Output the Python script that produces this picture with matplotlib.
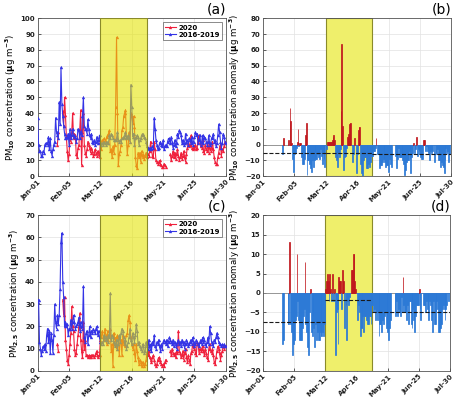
import numpy as np
import matplotlib
matplotlib.use('Agg')
import matplotlib.pyplot as plt

plt.rcParams['font.family'] = ['DejaVu Sans']
plt.rcParams['font.weight'] = 'bold'
plt.rcParams['mathtext.default'] = 'bf'

nan = np.nan

# day index 0 = Jan-01 ... 210 = Jul-30
tick_days = [0, 35, 70, 105, 140, 175, 210]
tick_labels = ['Jan-01', 'Feb-05', 'Mar-12', 'Apr-16', 'May-21', 'Jun-25', 'Jul-30']
lock_start, lock_end = 70, 122

# PM10, 2016-2019 mean (blue)
pm10_base = [
    37, 20, 16, 16, 13, 13, 16, 15, 20, 21,
    21, 20, 25, 17, 24, 16, 13, 17, 20, 22,
    37, 28, 26, 24, 47, 33, 69, 46, 38, 32,
    27, 24, 24, 25, 27, 20, 30, 24, 26, 30,
    25, 26, 25, 22, 24, 30, 29, 24, 28, 26,
    38, 50, 32, 30, 30, 27, 36, 30, 26, 24,
    27, 22, 21, 23, 20, 22, 25, 21, 23, 26,
    22, 20, 21, 20, 22, 21, 20, 22, 21, 21,
    26, 24, 27, 26, 24, 23, 23, 23, 24, 28,
    23, 22, 23, 22, 24, 24, 25, 26, 28, 24,
    25, 26, 24, 22, 58, 44, 25, 27, 20, 24,
    25, 26, 25, 20, 23, 24, 26, 27, 26, 25,
    24, 22, 19, 18, 17, 18, 18, 17, 19, 18,
    37, 30, 23, 20, 17, 18, 21, 22, 20, 19,
    23, 17, 19, 20, 19, 22, 24, 23, 21, 25,
    22, 18, 20, 23, 19, 21, 27, 25, 29, 28,
    26, 21, 23, 20, 21, 27, 22, 23, 20, 24,
    23, 21, 25, 20, 22, 25, 28, 26, 27, 21,
    23, 26, 20, 22, 26, 21, 25, 24, 22, 20,
    22, 26, 20, 21, 24, 25, 27, 22, 23, 19,
    21, 26, 33, 28, 22, 18, 21, 27, 25, 22,
    21]

# PM10, 2020 (red)
pm10_2020 = [
    nan, nan, nan, nan, nan, nan, nan, nan, nan, nan,
    nan, nan, nan, nan, nan, nan, nan, nan, nan, nan,
    nan, nan, 20, 28, nan, nan, nan, nan, 41, 32,
    50, 39, 25, 16, 10, 14, 25, 22, 28, 40,
    24, 27, 26, 14, 12, 18, 20, 30, 42, 7,
    28, 40, 20, 15, 13, 17, 22, 20, 18, 15,
    18, 16, 13, 14, 17, 15, 13, 16, 14, 12,
    22, 17, 23, 22, 24, 23, 22, 25, 26, 27,
    29, 16, 17, 12, 19, 15, 20, 44, 88, 40,
    7, 14, 16, 20, 29, 31, 38, 40, 42, 24,
    14, 20, 28, 22, 40, 38, 34, 38, 31, 12,
    7, 5, 15, 12, 15, 9, 16, 12, 14, 11,
    13, 15, 12, 14, 13, 16, 22, 17, 13, 12,
    22, 17, 10, 9, 8, 9, 10, 8, 7, 6,
    6, 8, 7, 6, nan, nan, nan, nan, 14, 10,
    13, 16, 12, 15, 11, 14, 17, 13, 10, 12,
    15, 11, 13, 16, 12, 9, 14, 18, 21, 19,
    20, 26, 18, 17, 18, 19, 20, 17, 18, 24,
    26, 22, 19, 18, 23, 16, 15, 20, 17, 16,
    22, 15, 20, 16, 18, 22, 17, 12, 9, 8,
    8, 12, 15, 18, 20, 13, 17, 16, 19, 22,
    21]

# PM2.5, 2016-2019 mean (blue)
pm25_base = [
    31, 32, 13, 10, 7, 9, 11, 10, 12, 9,
    16, 19, 13, 18, 8, 17, 14, 8, 16, 30,
    22, 19, 25, 21, 25, 37, 58, 62, 40, 33,
    20, 22, 20, 21, 16, 19, 19, 23, 19, 22,
    25, 22, 19, 20, 21, 22, 24, 18, 22, 19,
    20, 38, 15, 13, 17, 18, 12, 16, 20, 15,
    18, 17, 19, 18, 17, 19, 20, 16, 18, 15,
    13, 12, 13, 12, 16, 14, 15, 14, 13, 16,
    15, 35, 14, 16, 15, 13, 11, 12, 14, 10,
    12, 16, 13, 17, 19, 18, 15, 12, 14, 10,
    11, 13, 15, 19, 14, 12, 17, 15, 13, 16,
    21, 18, 12, 13, 11, 10, 9, 12, 11, 8,
    9, 13, 11, 10, 14, 10, 12, 9, 13, 12,
    16, 11, 10, 13, 12, 14, 11, 9, 12, 10,
    13, 14, 13, 12, 14, 11, 13, 15, 14, 13,
    12, 14, 11, 13, 12, 10, 13, 14, 12, 13,
    11, 14, 12, 13, 10, 12, 14, 13, 11, 12,
    13, 14, 12, 15, 13, 11, 12, 14, 13, 12,
    11, 13, 14, 12, 15, 13, 14, 12, 11, 13,
    15, 12, 20, 17, 13, 12, 11, 14, 13, 15,
    17, 15, 13, 12, 12, 11, 12, 11, 12, 11,
    11]

# PM2.5, 2020 (red)
pm25_2020 = [
    nan, nan, nan, nan, nan, nan, nan, nan, nan, nan,
    nan, nan, nan, nan, nan, nan, nan, nan, nan, nan,
    nan, nan, 12, 9, nan, nan, nan, nan, 32, 25,
    33, 14, 10, 5, 3, 7, 12, 17, 29, 20,
    18, 10, 7, 8, 12, 16, 20, 26, 14, 9,
    6, 22, 10, 14, 7, 7, 6, 7, 6, 7,
    6, 7, 7, 6, 7, 8, 9, 6, 7, 7,
    14, 15, 18, 15, 14, 19, 16, 12, 18, 14,
    16, 19, 9, 12, 2, 17, 14, 15, 10, 16,
    15, 7, 13, 14, 7, 16, 12, 11, 14, 16,
    17, 23, 25, 22, 15, 12, 10, 12, 8, 5,
    12, 9, 6, 3, 5, 4, 2, 4, 3, 2,
    3, 5, 8, 7, 9, 6, 5, 4, 6, 7,
    5, 3, 2, 3, 5, 6, 5, 4, 3, 2,
    3, 2, 4, 5, nan, nan, nan, nan, 9, 7,
    10, 8, 7, 8, 6, 9, 8, 18, 9, 8,
    6, 7, 9, 5, 8, 10, 6, 4, 7, 5,
    3, 8, 9, 12, 10, 12, 8, 7, 13, 12,
    8, 10, 9, 10, 11, 9, 7, 10, 8, 6,
    5, 10, 12, 9, 8, 10, 7, 4, 3, 6,
    9, 11, 10, 8, 5, 7, 9, 11, 10, 11,
    11]

# mean anomaly per period (pre / lockdown / post)
pm10_means = [-5.5, -5.5, -6.0]
pm25_means = [-7.5, -1.8, -5.0]

days = np.arange(len(pm10_base))

RED = '#f0203c'
BLUE = '#3434e6'
BAR_RED = '#c0161c'
BAR_BLUE = '#2a78d6'
YELLOW = '#e4e400'
YELLOW_SOLID = '#efef6b'


def style_axes(ax, ylim, yticks):
    ax.set_xlim(0, 210)
    ax.set_ylim(*ylim)
    ax.set_yticks(yticks)
    ax.set_xticks(tick_days)
    ax.set_xticklabels(tick_labels, rotation=45, ha='right', rotation_mode='anchor')
    ax.tick_params(labelsize=5, direction='in', length=2, width=0.5,
                   colors='#222222', pad=2)
    ax.grid(True, color='#e2e2e2', lw=0.5)
    ax.set_axisbelow(True)
    for s in ax.spines.values():
        s.set_color('#555555')
        s.set_linewidth(0.6)


def line_panel(ax, base, y2020, ylim, yticks, ylabel, letter):
    ax.plot(days, y2020, color=RED, lw=0.8, marker='^', ms=2.4, mew=0, label='2020', zorder=3)
    ax.plot(days, base, color=BLUE, lw=0.8, marker='^', ms=2.4, mew=0, label='2016-2019', zorder=3)
    # translucent lockdown band drawn over the lines
    ax.axvspan(lock_start, lock_end, facecolor=YELLOW, alpha=0.58,
               edgecolor='none', zorder=5)
    ax.axvspan(lock_start, lock_end, facecolor='none', edgecolor='#8a8a2a',
               lw=0.8, zorder=6)
    style_axes(ax, ylim, yticks)
    ax.set_ylabel(ylabel, fontsize=6.2, labelpad=2)
    leg = ax.legend(loc='upper right', fontsize=5, frameon=True, fancybox=False,
                    handlelength=1.6, borderpad=0.3, labelspacing=0.2,
                    handletextpad=0.3, borderaxespad=0.6)
    leg.get_frame().set_edgecolor('#333333')
    leg.get_frame().set_linewidth(0.5)
    leg.set_zorder(10)
    ax.text(1.0, 1.01, letter, transform=ax.transAxes, ha='right', va='bottom',
            fontsize=10, fontweight='normal')


def bar_panel(ax, base, y2020, means, ylim, yticks, ylabel, letter):
    anom = np.array(y2020, dtype=float) - np.array(base, dtype=float)
    ok = ~np.isnan(anom)
    cols = [BAR_RED if a > 0 else BAR_BLUE for a in anom[ok]]
    ax.axvspan(lock_start, lock_end, facecolor=YELLOW_SOLID, edgecolor='#8a8a2a',
               lw=0.8, zorder=1)
    ax.bar(days[ok], anom[ok], width=1.0, color=cols, edgecolor=cols,
           linewidth=0.6, alpha=0.9, zorder=3)
    ax.axhline(0, color='#888888', lw=0.6, zorder=2)
    edges = [(0, lock_start), (lock_start, lock_end), (lock_end, 210)]
    for (x0, x1), m in zip(edges, means):
        ax.plot([x0, x1], [m, m], color='#1a1a1a', ls='--', lw=0.8, zorder=7)
    style_axes(ax, ylim, yticks)
    ax.set_ylabel(ylabel, fontsize=6.2, labelpad=2)
    ax.text(1.0, 1.01, letter, transform=ax.transAxes, ha='right', va='bottom',
            fontsize=10, fontweight='normal')


fig = plt.figure(figsize=(4.74, 3.97), dpi=100)
ax_a = fig.add_axes([0.0795, 0.556, 0.397, 0.398])
ax_b = fig.add_axes([0.555, 0.556, 0.397, 0.398])
ax_c = fig.add_axes([0.0795, 0.066, 0.397, 0.392])
ax_d = fig.add_axes([0.555, 0.066, 0.395, 0.392])

line_panel(ax_a, pm10_base, pm10_2020, (0, 100), np.arange(0, 101, 10),
           r'PM$_{10}$ concentration ($\mu$g m$^{-3}$)', '(a)')
bar_panel(ax_b, pm10_base, pm10_2020, pm10_means, (-20, 80), np.arange(-20, 81, 10),
          r'PM$_{10}$ concentration anomaly ($\mu$g m$^{-3}$)', '(b)')
line_panel(ax_c, pm25_base, pm25_2020, (0, 70), np.arange(0, 71, 10),
           r'PM$_{2.5}$ concentration ($\mu$g m$^{-3}$)', '(c)')
bar_panel(ax_d, pm25_base, pm25_2020, pm25_means, (-20, 20), np.arange(-20, 21, 5),
          r'PM$_{2.5}$ concentration anomaly ($\mu$g m$^{-3}$)', '(d)')

fig.savefig('out.png', dpi=100)
